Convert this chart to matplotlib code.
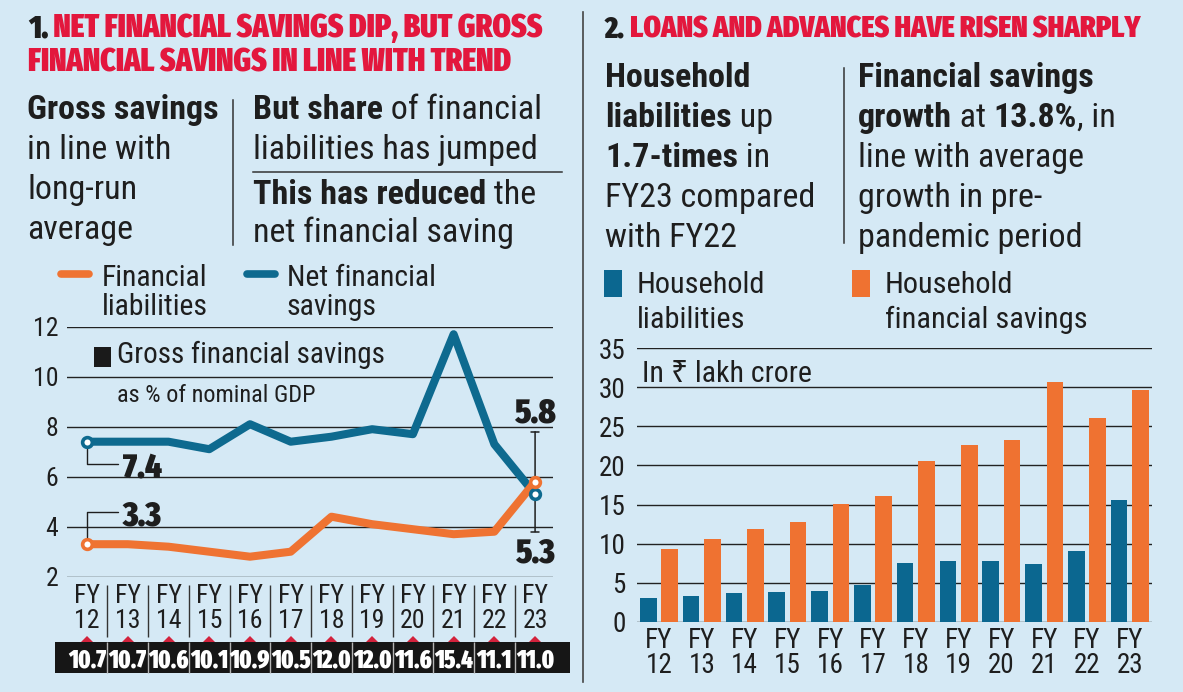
import numpy as np
import matplotlib
matplotlib.use('Agg')
import matplotlib.pyplot as plt
from matplotlib import font_manager as fm
from matplotlib.font_manager import FontProperties
from matplotlib.transforms import blended_transform_factory
from matplotlib.patches import Rectangle
from matplotlib.lines import Line2D

# ---------------- data ----------------
fiscal_years = ['12', '13', '14', '15', '16', '17', '18', '19', '20', '21', '22', '23']
net_financial_savings = [7.4, 7.4, 7.4, 7.1, 8.1, 7.4, 7.6, 7.9, 7.7, 11.7, 7.3, 5.3]
financial_liabilities = [3.3, 3.3, 3.2, 3.0, 2.8, 3.0, 4.4, 4.1, 3.9, 3.7, 3.8, 5.8]
gross_financial_savings = [10.7, 10.7, 10.6, 10.1, 10.9, 10.5, 12.0, 12.0, 11.6, 15.4, 11.1, 11.0]
household_liabilities = [3.0, 3.3, 3.7, 3.8, 3.9, 4.7, 7.5, 7.8, 7.8, 7.4, 9.1, 15.6]
household_financial_savings = [9.3, 10.6, 11.9, 12.7, 15.1, 16.1, 20.6, 22.6, 23.3, 30.7, 26.1, 29.7]
left_yticks = [2, 4, 6, 8, 10, 12]
right_yticks = [0, 5, 10, 15, 20, 25, 30, 35]

# ---------------- style ----------------
W, H = 1183, 692
BG = '#d5e9f5'
INK = '#1e1e1e'
RED = '#e3173d'
DIAMOND = '#d3223c'
BLUE = '#0e6a8f'
ORANGE = '#ef7332'
BAR_BLUE = '#0b6790'
BAR_ORANGE = '#ef7231'


# ---------------- fonts ----------------
def _weight(e):
    w = e.weight
    try:
        return int(w)
    except Exception:
        return fm.weight_dict.get(str(w).lower(), 400)


def _level(e):
    nm = e.name.lower().replace(' ', '').replace('-', '')
    st = str(e.stretch).lower()
    if 'extracondensed' in nm or 'ultracondensed' in nm or st in ('extra-condensed', 'ultra-condensed'):
        return 2
    if 'semicondensed' in nm or st == 'semi-condensed':
        return 4
    if 'condensed' in nm or 'narrow' in nm or st == 'condensed':
        return 3
    return 5


def _pref(name):
    n = name.lower()
    for i, k in enumerate(['noto sans', 'roboto', 'open sans', 'lato', 'liberation', 'dejavu']):
        if k in n:
            return i
    return 9


def pick_fonts():
    groups = {}
    for e in fm.fontManager.ttflist:
        if e.style != 'normal':
            continue
        lv = _level(e)
        if lv > 3:
            continue
        if 'mono' in e.name.lower() or 'serif' in e.name.lower() and 'sans' not in e.name.lower():
            continue
        groups.setdefault((e.name, lv), []).append(e)
    body = None
    for (nm, lv), ents in sorted(groups.items(), key=lambda kv: (abs(kv[0][1] - 3), _pref(kv[0][0]))):
        regs = [e for e in ents if 350 <= _weight(e) <= 450]
        bolds = [e for e in ents if 600 <= _weight(e) <= 800]
        if regs and bolds:
            reg = min(regs, key=lambda e: abs(_weight(e) - 400))
            bold = min(bolds, key=lambda e: abs(_weight(e) - 700))
            body = (reg.fname, bold.fname)
            break
    heavy = [e for ents in groups.values() for e in ents if _weight(e) >= 700]
    title = None
    if heavy:
        title = sorted(heavy, key=lambda e: (_level(e), _pref(e.name), -_weight(e)))[0].fname
    if body is None:
        body = (fm.findfont(FontProperties(family='Roboto', weight='normal')),
                fm.findfont(FontProperties(family='Roboto', weight='bold')))
    if title is None:
        title = body[1]
    return {'r': body[0], 'b': body[1], 't': title}


FONT = pick_fonts()


def fprop(kind, size):
    if kind == 'rupee':
        return FontProperties(family=['Noto Sans', 'DejaVu Sans'], size=size)
    return FontProperties(fname=FONT[kind], size=size)


fig = plt.figure(figsize=(W / 100, H / 100), dpi=100)
fig.patch.set_facecolor(BG)
R = fig.canvas.get_renderer()


def seg_w(segs, size):
    tot = 0.0
    for txt, kind, _ in segs:
        t = fig.text(0, 0, txt, fontproperties=fprop(kind, size))
        tot += t.get_window_extent(R).width
        t.remove()
    return tot


def fit(lines, targets, max_size, s0=20.0):
    return min([max_size] + [s0 * tw / seg_w(l, s0) for l, tw in zip(lines, targets)])


def put(x, base, segs, size):
    for txt, kind, col in segs:
        t = fig.text(x / W, 1 - base / H, txt, fontproperties=fprop(kind, size),
                     color=col, ha='left', va='baseline')
        x += t.get_window_extent(R).width


def block(x, baselines, lines, rights, max_size):
    size = fit(lines, [r - x for r in rights], max_size)
    for b, l in zip(baselines, lines):
        put(x, b, l, size)
    return size


def fline(x0, y0, x1, y1, **kw):
    fig.add_artist(Line2D([x0 / W, x1 / W], [1 - y0 / H, 1 - y1 / H], transform=fig.transFigure, **kw))


def frect(x0, y0, x1, y1, color):
    fig.add_artist(Rectangle((x0 / W, 1 - y1 / H), (x1 - x0) / W, (y1 - y0) / H,
                             transform=fig.transFigure, facecolor=color, edgecolor='none'))


# ---------------- headline texts ----------------
block(28, [37, 72],
      [[('1.', 't', INK), (' NET FINANCIAL SAVINGS DIP, BUT GROSS', 't', RED)],
       [('FINANCIAL SAVINGS IN LINE WITH TREND', 't', RED)]],
      [545, 518], 26.5)
block(605, [37],
      [[('2.', 't', INK), (' LOANS AND ADVANCES HAVE RISEN SHARPLY', 't', RED)]],
      [1140], 26.5)

BODY_MAX = 24.5
block(27, [119, 159, 199, 239],
      [[('Gross savings', 'b', INK)], [('in line with', 'r', INK)],
       [('long-run', 'r', INK)], [('average', 'r', INK)]],
      [220, 182, 145, 137], BODY_MAX)
block(253, [119, 159, 204, 242],
      [[('But share', 'b', INK), (' of financial', 'r', INK)],
       [('liabilities has jumped', 'r', INK)],
       [('This has reduced', 'b', INK), (' the', 'r', INK)],
       [('net financial saving', 'r', INK)]],
      [551, 548, 544, 525], BODY_MAX)
fline(232.5, 100, 232.5, 245, color='#333333', lw=1.1)
fline(253, 171.7, 561.5, 171.7, color='#333333', lw=1.1)

block(605, [86.7, 126.7, 166.7, 206.7, 246.7],
      [[('Household', 'b', INK)], [('liabilities', 'b', INK), (' up', 'r', INK)],
       [('1.7-times', 'b', INK), (' in', 'r', INK)], [('FY23 compared', 'r', INK)],
       [('with FY22', 'r', INK)]],
      [757, 778, 775, 825, 748], BODY_MAX)
block(858, [86.7, 126.7, 166.7, 206.7, 246.7],
      [[('Financial savings', 'b', INK)],
       [('growth', 'b', INK), (' at ', 'r', INK), ('13.8%', 'b', INK), (', in', 'r', INK)],
       [('line with average', 'r', INK)], [('growth in pre-', 'r', INK)],
       [('pandemic period', 'r', INK)]],
      [1101, 1133, 1099, 1059, 1093], BODY_MAX)
fline(844, 68, 844, 243, color='#333333', lw=1.1)

# panel divider
fline(582.5, 12, 582.5, 682, color='#444444', lw=1.2)

# ---------------- legends ----------------
fline(60.5, 274, 88.5, 274, color=ORANGE, lw=5.5, solid_capstyle='round')
fline(246.5, 274, 274.5, 274, color=BLUE, lw=5.5, solid_capstyle='round')
lg = fit([[('Financial', 'r', INK)], [('liabilities', 'r', INK)],
          [('Net financial', 'r', INK)], [('savings', 'r', INK)]],
         [106.6, 110, 151.3, 90], 22.5)
put(102, 286, [('Financial', 'r', INK)], lg)
put(102, 315, [('liabilities', 'r', INK)], lg)
put(287, 286, [('Net financial', 'r', INK)], lg)
put(287, 315, [('savings', 'r', INK)], lg)

frect(604, 270, 622, 297.5, BAR_BLUE)
frect(852, 270, 870, 297.5, BAR_ORANGE)
rg = fit([[('Household', 'r', INK)], [('liabilities', 'r', INK)],
          [('Household', 'r', INK)], [('financial savings', 'r', INK)]],
         [129.4, 109.4, 129, 201.7], 22.5)
put(637, 293, [('Household', 'r', INK)], rg)
put(637, 328, [('liabilities', 'r', INK)], rg)
put(885, 293, [('Household', 'r', INK)], rg)
put(885, 328, [('financial savings', 'r', INK)], rg)

frect(93.5, 346.7, 110.5, 367.3, '#1a1a1a')
block(117, [363.3], [[('Gross financial savings', 'r', INK)]], [393], 21)
block(117, [402], [[('as % of nominal GDP', 'r', INK)]], [325], 17.5)
block(642, [381.7], [[('In ', 'r', INK), ('\u20b9', 'rupee', INK), (' lakh crore', 'r', INK)]], [815], 21.5)

# ---------------- left chart ----------------
def ax_rect(x0, y_top, x1, y_bot):
    return [x0 / W, 1 - y_bot / H, (x1 - x0) / W, (y_bot - y_top) / H]


xs = np.arange(len(fiscal_years))
L_TOP, L_BOT = 326.7, 576.7
axL = fig.add_axes(ax_rect(66.7, L_TOP, 553, L_BOT))
axL.set_facecolor('none')
axL.set_xlim(-0.5, 11.44)
axL.set_ylim(min(left_yticks), max(left_yticks))
for s in axL.spines.values():
    s.set_visible(False)
axL.set_xticks([])
axL.set_yticks(left_yticks)
axL.set_yticklabels([str(v) for v in left_yticks])
for lab in axL.get_yticklabels():
    lab.set_fontproperties(fprop('r', 18.5))
    lab.set_color(INK)
axL.tick_params(axis='y', length=0, pad=6)
axL.yaxis.grid(True, color='#222222', lw=1.0)
axL.set_axisbelow(True)

axL.plot(xs, net_financial_savings, color=BLUE, lw=5.8, zorder=3, solid_capstyle='butt')
axL.plot(xs, financial_liabilities, color=ORANGE, lw=5.8, zorder=3.1, solid_capstyle='butt')
ends = [0, len(xs) - 1]
axL.plot(xs[ends], np.array(net_financial_savings)[ends], 'o', ms=7, mew=2.6,
         mfc='white', mec=BLUE, zorder=5, clip_on=False)
axL.plot(xs[ends], np.array(financial_liabilities)[ends], 'o', ms=7, mew=2.6,
         mfc='white', mec=ORANGE, zorder=5.1, clip_on=False)

ann_size = fit([[('7.4', 't', INK)]], [49], 25)
conn = dict(arrowstyle='-', color=INK, lw=1.0, shrinkA=2, shrinkB=5,
            connectionstyle='angle,angleA=0,angleB=90,rad=0')
axL.annotate(f'{net_financial_savings[0]:.1f}', xy=(0, net_financial_savings[0]),
             xytext=(36, -36), textcoords='offset pixels', ha='left', va='baseline',
             fontproperties=fprop('t', ann_size), color=INK,
             arrowprops=dict(conn, relpos=(0, 0.62)), zorder=6)
axL.annotate(f'{financial_liabilities[0]:.1f}', xy=(0, financial_liabilities[0]),
             xytext=(36, 19), textcoords='offset pixels', ha='left', va='baseline',
             fontproperties=fprop('t', ann_size), color=INK,
             arrowprops=dict(conn, relpos=(0, 0.62)), zorder=6)
last = len(xs) - 1
axL.annotate(f'{financial_liabilities[-1]:.1f}', xy=(last, financial_liabilities[-1]),
             xytext=(0, 59), textcoords='offset pixels', ha='center', va='baseline',
             fontproperties=fprop('t', ann_size), color=INK, zorder=6, annotation_clip=False)
axL.annotate(f'{net_financial_savings[-1]:.1f}', xy=(last, net_financial_savings[-1]),
             xytext=(0, -68.5), textcoords='offset pixels', ha='center', va='baseline',
             fontproperties=fprop('t', ann_size), color=INK, zorder=6, annotation_clip=False)
brk = dict(color=INK, lw=1.1, shrinkA=0, shrinkB=0, mutation_scale=10,
           arrowstyle='|-|,widthA=0.3,widthB=0.0')
axL.annotate('', xy=(last, net_financial_savings[-1]), xytext=(0, 62.5), textcoords='offset pixels',
             arrowprops=brk, zorder=2, annotation_clip=False)
axL.annotate('', xy=(last, net_financial_savings[-1]), xytext=(0, -37.5), textcoords='offset pixels',
             arrowprops=brk, zorder=2, annotation_clip=False)

trL = blended_transform_factory(axL.transData, axL.transAxes)


def ayL(px):
    return (L_BOT - px) / (L_BOT - L_TOP)


for i, fy in enumerate(fiscal_years):
    axL.text(i, ayL(603), 'FY', transform=trL, ha='center', va='baseline',
             fontproperties=fprop('r', 18.5), color=INK, clip_on=False)
    axL.text(i, ayL(628), fy, transform=trL, ha='center', va='baseline',
             fontproperties=fprop('r', 18.5), color=INK, clip_on=False)
axL.vlines(xs[:-1] + 0.5, ayL(637), ayL(585), transform=trL, colors='#333333', lw=1.0, clip_on=False)

axL.plot(xs, [ayL(643)] * len(xs), 'D', transform=trL, color=DIAMOND, ms=7, mew=0,
         clip_on=False, zorder=1.5)
axL.add_patch(Rectangle((-0.785, ayL(673)), 11.85 + 0.785, ayL(642) - ayL(673), transform=trL,
                        facecolor='#161616', edgecolor='none', clip_on=False, zorder=2))
axL.vlines(xs[:-1] + 0.5, ayL(673), ayL(642), transform=trL, colors='#b5b5b5', lw=1.0,
           clip_on=False, zorder=3)
stripS = fit([[('10.7', 't', INK)]], [38], 22)
for i, v in enumerate(gross_financial_savings):
    axL.text(i, ayL(667), f'{v:.1f}', transform=trL, ha='center', va='baseline', color='white',
             fontproperties=fprop('t', stripS), clip_on=False, zorder=4)

# ---------------- right chart ----------------
R_TOP, R_BOT = 348.3, 621.7
axR = fig.add_axes(ax_rect(636.7, R_TOP, 1151.6, R_BOT))
axR.set_facecolor('none')
axR.set_xlim(-0.52, 11.51)
axR.set_ylim(min(right_yticks), max(right_yticks))
for s in axR.spines.values():
    s.set_visible(False)
axR.set_xticks([])
axR.set_yticks(right_yticks)
axR.set_yticklabels([str(v) for v in right_yticks])
for lab in axR.get_yticklabels():
    lab.set_fontproperties(fprop('r', 19.5))
    lab.set_color(INK)
axR.tick_params(axis='y', length=0, pad=8)
axR.yaxis.grid(True, color='#222222', lw=1.0)
axR.set_axisbelow(True)
axR.bar(xs - 0.25, household_liabilities, 0.39, color=BAR_BLUE, zorder=3)
axR.bar(xs + 0.25, household_financial_savings, 0.39, color=BAR_ORANGE, zorder=3)

trR = blended_transform_factory(axR.transData, axR.transAxes)


def ayR(px):
    return (R_BOT - px) / (R_BOT - R_TOP)


for i, fy in enumerate(fiscal_years):
    axR.text(i, ayR(648), 'FY', transform=trR, ha='center', va='baseline',
             fontproperties=fprop('r', 19.5), color=INK, clip_on=False)
    axR.text(i, ayR(673), fy, transform=trR, ha='center', va='baseline',
             fontproperties=fprop('r', 19.5), color=INK, clip_on=False)

fig.savefig('out.png', dpi=100, facecolor=BG)
